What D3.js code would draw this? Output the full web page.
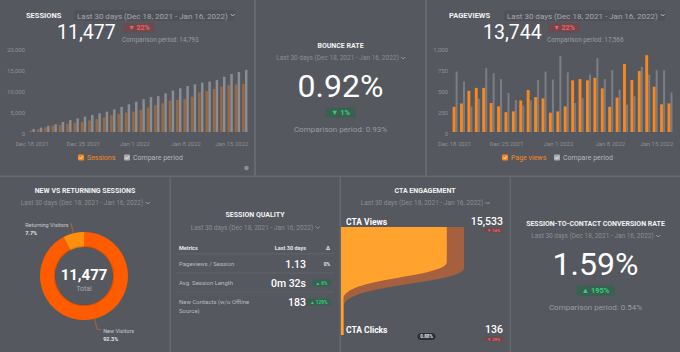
<!DOCTYPE html>
<html>
<head>
<meta charset="utf-8">
<script src="https://cdn.jsdelivr.net/npm/d3@7"></script>
<style>
  body { margin: 0; background: #66696e; }
  svg { display: block; font-family: Roboto, "Noto Sans", sans-serif; }
</style>
</head>
<body>
<svg id="dash" width="680" height="352"></svg>
<script>
// ---- data ----
var days = d3.timeDay.range(new Date(2021, 11, 18), new Date(2022, 0, 17));
var tickIndex = [0, 7, 14, 21, 28];
var tickLabels = ['Dec 18 2021', 'Dec 25 2021', 'Jan 1 2022', 'Jan 8 2022', 'Jan 15 2022'];
var dateRange = 'Last 30 days (Dec 18, 2021 - Jan 16, 2022)';

// cumulative sessions
var sessions = [300, 630, 1100, 1550, 1700, 1950, 2200, 2400, 2750, 3050, 3500, 4000, 4300, 4650, 4850,
  5250, 5800, 6400, 6850, 7450, 7650, 7900, 8400, 9400, 9750, 10250, 10800, 11150, 11350, 11477];
var sessionsCompare = [700, 1050, 1450, 1850, 2400, 2850, 3250, 3650, 4050, 4450, 4850, 5400, 6000, 6600, 7200,
  7800, 8300, 8550, 9200, 9850, 10400, 10950, 11350, 11750, 12000, 12400, 13150, 13800, 14300, 14793];
var sessionTicks = [0, 5000, 10000, 15000, 20000];

var pageviews = [300, 340, 490, 525, 525, 345, 305, 235, 245, 375, 500, 415, 400, 230, 245,
  305, 615, 630, 615, 645, 520, 300, 410, 810, 620, 725, 915, 540, 330, 340];
var pageviewsCompare = [720, 600, 305, 395, 760, 700, 630, 465, 380, 315, 375, 620, 720, 625, 905,
  710, 345, 405, 685, 880, 630, 735, 505, 325, 425, 775, 685, 735, 735, 470];
var pageviewTicks = [0, 250, 500, 750, 1000];

var visitorTypes = ['New Visitors', 'Returning Visitors'];
var visitorShares = [92.3, 7.7];
var visitorTotal = 11477;

var qualityMetrics = [['Pageviews / Session'], ['Avg. Session Length'], ['New Contacts (w/o Offline', 'Source)']];
var qualityValues = ['1.13', '0m 32s', '183'];
var qualityChanges = [0, 6, 129];

var ctaSteps = ['CTA Views', 'CTA Clicks'];
var ctaValues = [15533, 136];
var ctaCompare = [18062, 223];
var ctaChanges = [-14, -39];
var ctaRate = '0.88%';

var fmt = d3.format(',');
var svg = d3.select('#dash');

// ---- panels ----
var panels = [[0, 0, 254, 175.5], [256, 0, 169, 175.5], [427, 0, 253, 175.5],
  [0, 177, 169.5, 175], [171, 177, 168.5, 175], [341, 177, 168.5, 175], [511, 177, 169, 175]];
svg.selectAll('.panel').data(panels).enter().append('rect')
  .attr('x', d => d[0]).attr('y', d => d[1]).attr('width', d => d[2]).attr('height', d => d[3])
  .attr('fill', '#55585e');

function txt(g, x, y, s, size, color, weight, anchor) {
  return g.append('text').attr('x', x).attr('y', y).text(s)
    .style('font-size', size + 'px').attr('fill', color)
    .style('font-weight', weight || 400).attr('text-anchor', anchor || 'start');
}

// small coloured change pill; good decides green/red, sign decides the arrow
function badge(g, x, y, h, change, size, align, good) {
  if (good === undefined) good = change >= 0;
  var b = g.append('g');
  var r = b.append('rect').attr('rx', 1.5).attr('fill', good ? '#3b5f50' : '#6b4a50');
  var t = txt(b, 0, 0, (change >= 0 ? '▲ ' : '▼ ') + Math.abs(change) + '%', size,
    good ? '#2fd27a' : '#ff5b5b', 700, 'middle');
  var w = t.node().getComputedTextLength() + size * 1.4;
  var cx = align === 'end' ? x - w / 2 : align === 'middle' ? x : x + w / 2;
  r.attr('x', cx - w / 2).attr('y', y).attr('width', w).attr('height', h);
  t.attr('x', cx).attr('y', y + h / 2 + size * 0.36);
}

function chevron(g, x, y, color) {
  g.append('path').attr('d', 'M' + x + ',' + (y - 1.5) + 'l2,2l2,-2')
    .attr('fill', 'none').attr('stroke', color).attr('stroke-width', 0.9);
}

function centredDate(g, cx, y) {
  var t = txt(g, cx - 3, y, dateRange, 6.5, '#8b8e93', 400, 'middle');
  var w = t.node().getComputedTextLength();
  chevron(g, cx - 3 + w / 2 + 2.5, y - 1.5, '#a0a3a8');
}

// ---- bar chart panels ----
function barPanel(o) {
  var g = svg.append('g');
  txt(g, o.titleX, 18, o.title, 7.5, '#f2f2f2', 700);
  g.append('rect').attr('x', o.dateX - 3).attr('y', 10).attr('width', 161).attr('height', 11)
    .attr('rx', 2).attr('fill', 'rgba(0,0,0,0.06)');
  var dt = txt(g, o.dateX, 18.5, dateRange, 8, '#a6a9ae');
  chevron(g, o.dateX + dt.node().getComputedTextLength() + 3, 15.5, '#c0c3c8');
  txt(g, o.valueX, 38.5, fmt(o.value), 19.5, '#ffffff', 400);
  badge(g, o.badgeX, 23, 9.5, o.change, 7, 'start');
  txt(g, o.badgeX - 1, 42, 'Comparison period: ' + fmt(o.comparison), 6.4, '#9a9da2');

  var x = d3.scaleBand().domain(days).range(o.xRange);
  var y = d3.scaleLinear().domain([0, o.yTicks[o.yTicks.length - 1]]).range([132, 48]);

  var ya = g.append('g').attr('transform', 'translate(' + o.axisX + ',2)')
    .call(d3.axisLeft(y).tickValues(o.yTicks).tickSize(0).tickPadding(0).tickFormat(fmt));
  ya.attr('font-size', 6).attr('font-family', 'Roboto');
  ya.select('.domain').remove();
  ya.selectAll('text').attr('fill', '#8e9196');

  var xa = g.append('g').attr('transform', 'translate(0,141.5)')
    .call(d3.axisBottom(x).tickValues(tickIndex.map(i => days[i]))
      .tickFormat((d, i) => tickLabels[i]).tickSize(0).tickPadding(0));
  xa.attr('font-size', 6).attr('font-family', 'Roboto');
  xa.select('.domain').remove();
  xa.selectAll('text').attr('fill', '#8e9196');
  var lastDay = days[tickIndex[tickIndex.length - 1]];
  xa.selectAll('text').filter(d => d === lastDay)
    .attr('text-anchor', 'end').attr('x', o.xRange[1] - (x(lastDay) + x.bandwidth() / 2));

  g.selectAll('.cmp').data(o.compare).enter().append('rect')
    .attr('x', (d, i) => x(days[i]) + o.cmpOff).attr('width', o.cmpW)
    .attr('y', d => y(d)).attr('height', d => y(0) - y(d))
    .attr('fill', o.cmpColor);
  g.selectAll('.cur').data(o.current).enter().append('rect')
    .attr('x', (d, i) => x(days[i]) + o.curOff).attr('width', o.curW)
    .attr('y', d => y(d)).attr('height', d => y(0) - y(d))
    .attr('fill', '#f7871f').attr('fill-opacity', o.curOpacity);

  // legend
  [[o.legendX, '#f7871f', o.legendLabel, '#f7871f'], [o.legendX2, '#a9acb1', 'Compare period', '#b4b7bc']]
    .forEach(function (l) {
      g.append('rect').attr('x', l[0]).attr('y', 154.5).attr('width', 6).attr('height', 6)
        .attr('rx', 1).attr('fill', l[1]);
      g.append('path').attr('d', 'M' + (l[0] + 1.3) + ',157.6l1.3,1.4l2.2,-2.6')
        .attr('fill', 'none').attr('stroke', '#ffffff').attr('stroke-width', 0.8);
      txt(g, l[0] + 9, 160.3, l[2], 7, l[3]);
    });
}

barPanel({
  title: 'SESSIONS', titleX: 26, dateX: 77, value: 11477, valueX: 57, badgeX: 123, change: -22,
  comparison: 14793, xRange: [28.5, 248.4], axisX: 25, yTicks: sessionTicks,
  current: sessions, compare: sessionsCompare, curOff: 1, curW: 2.6, curOpacity: 0.4,
  cmpOff: 3.9, cmpW: 2.5, cmpColor: '#8a8d93', legendX: 78, legendX2: 124, legendLabel: 'Sessions'
});
barPanel({
  title: 'PAGEVIEWS', titleX: 449, dateX: 507, value: 13744, valueX: 483, badgeX: 548, change: -22,
  comparison: 17566, xRange: [451, 673.3], axisX: 448, yTicks: pageviewTicks,
  current: pageviews, compare: pageviewsCompare, curOff: 1.6, curW: 2.9, curOpacity: 1,
  cmpOff: 4.6, cmpW: 2, cmpColor: '#7b7e84', legendX: 502, legendX2: 554, legendLabel: 'Page views'
});
svg.append('circle').attr('cx', 246.5).attr('cy', 168).attr('r', 2.3).attr('fill', '#8d9096');

// ---- single value panels ----
function kpiPanel(cx, yTitle, title, value, change, good, comparison) {
  var g = svg.append('g');
  txt(g, cx, yTitle, title, 7, '#f2f2f2', 700, 'middle');
  centredDate(g, cx, yTitle + 12);
  txt(g, cx, yTitle + 49, value, 32, '#ffffff', 400, 'middle');
  badge(g, cx, yTitle + 59.5, 10.5, change, 7.5, 'middle', good);
  txt(g, cx, yTitle + 84, 'Comparison period: ' + comparison, 8, '#9a9da2', 400, 'middle');
}
kpiPanel(340.5, 48, 'BOUNCE RATE', '0.92%', -1, true, '0.93%');
kpiPanel(595.5, 226, 'SESSION-TO-CONTACT CONVERSION RATE', '1.59%', 195, true, '0.54%');

// ---- donut ----
(function () {
  var g = svg.append('g');
  txt(g, 85, 192.5, 'NEW VS RETURNING SESSIONS', 7, '#f2f2f2', 700, 'middle');
  centredDate(g, 85, 205);
  var c = g.append('g').attr('transform', 'translate(84,276)');
  var pie = d3.pie().sort(null).value(d => d);
  var arc = d3.arc().innerRadius(29).outerRadius(44);
  var color = d3.scaleOrdinal().domain(visitorTypes).range(['#ff5c00', '#ff8f0c']);
  var slices = pie(visitorShares);
  c.selectAll('path').data(slices).enter().append('path')
    .attr('d', arc).attr('fill', (d, i) => color(visitorTypes[i]));
  c.append('circle').attr('r', 29.5).attr('fill', 'none').attr('stroke', 'rgba(0,0,0,0.12)').attr('stroke-width', 1.5);
  txt(c, 0, 4, fmt(visitorTotal), 15, '#ffffff', 700, 'middle');
  txt(c, 0, 14.5, 'Total', 7, '#a6a9ae', 400, 'middle');

  slices.forEach(function (s, i) {
    var a = (s.startAngle + s.endAngle) / 2;
    var p0 = [Math.sin(a) * 44, -Math.cos(a) * 44];
    var p1 = [Math.sin(a) * 55, -Math.cos(a) * 55];
    var right = Math.sin(a) > 0;
    var p2 = [p1[0] + (right ? 4 : 0), p1[1]];
    c.append('polyline').attr('points', [p0, p1, p2].join(' '))
      .attr('fill', 'none').attr('stroke', '#d0692c').attr('stroke-width', 0.7);
    var lg = c.append('g');
    txt(lg, 0, 0, visitorTypes[i], 5.5, '#c8cbd0');
    txt(lg, 0, 8, visitorShares[i] + '%', 5.5, '#e2e4e8', 700);
    var w = lg.node().getBBox().width;
    var lx = right ? p2[0] + 2 : p2[0] - w - 2;
    lg.attr('transform', 'translate(' + lx + ',' + (p2[1] + 4) + ')');
  });
})();

// ---- session quality table ----
(function () {
  var g = svg.append('g');
  txt(g, 255, 216.5, 'SESSION QUALITY', 7, '#f2f2f2', 700, 'middle');
  centredDate(g, 255, 229.5);
  txt(g, 179, 250, 'Metrics', 5.5, '#e4e6ea', 700);
  txt(g, 306, 250, 'Last 30 days', 5.5, '#e4e6ea', 700, 'end');
  txt(g, 328, 250, 'Δ', 5.5, '#e4e6ea', 700, 'middle');
  var rowY = [266, 285, 304];
  [254, 273, 292].forEach(function (ly) {
    g.append('line').attr('x1', 176).attr('x2', 334).attr('y1', ly).attr('y2', ly)
      .attr('stroke', '#64676d').attr('stroke-width', 0.8);
  });
  qualityMetrics.forEach(function (m, i) {
    m.forEach(function (line, j) {
      txt(g, 179, rowY[i] + j * 8.5, line, 6, '#b8bbc0');
    });
    txt(g, 306, rowY[i] + 1.5, qualityValues[i], 10.5, '#ffffff', 500, 'end');
    if (qualityChanges[i] === 0) {
      txt(g, 327, rowY[i], '0%', 5, '#e4e6ea', 700, 'middle');
    } else {
      badge(g, 331, rowY[i] - 5.5, 7, qualityChanges[i], 4.8, 'end');
    }
  });
})();

// ---- CTA funnel ----
(function () {
  var g = svg.append('g');
  txt(g, 425, 192.5, 'CTA ENGAGEMENT', 7, '#f2f2f2', 700, 'middle');
  centredDate(g, 425, 205);
  var w = d3.scaleLinear().domain([0, ctaCompare[0]]).range([0, 123]);
  var left = 341;
  function funnel(topW, botW, yTop, yBend, yEnd, yBottom) {
    var p = d3.path();
    var mid = yBend + (yEnd - yBend) * 0.42;
    p.moveTo(left, yTop);
    p.lineTo(left + topW, yTop);
    p.lineTo(left + topW, yBend);
    p.bezierCurveTo(left + topW, mid, left + botW, mid, left + botW, yEnd);
    p.lineTo(left + botW, yBottom);
    p.lineTo(left, yBottom);
    p.closePath();
    return p.toString();
  }
  g.append('path').attr('d', funnel(w(ctaCompare[0]), Math.max(w(ctaCompare[1]), 3), 227, 268, 306, 335))
    .attr('fill', '#a4603f');
  g.append('path').attr('d', funnel(w(ctaValues[0]), Math.max(w(ctaValues[1]), 2.5), 227, 262, 299, 335))
    .attr('fill', '#ffa32e');

  var ys = [224.5, 333];
  ctaSteps.forEach(function (s, i) {
    txt(g, 346, ys[i], s, 8.5, '#ffffff', 700);
    txt(g, 503, ys[i], fmt(ctaValues[i]), 10.5, '#ffffff', 500, 'end');
    badge(g, 503, ys[i] + 3.5, 5, ctaChanges[i], 4.2, 'end');
  });
  g.append('rect').attr('x', 417.5).attr('y', 333).attr('width', 18).attr('height', 7)
    .attr('rx', 3.5).attr('fill', '#2d2f33');
  txt(g, 426.5, 338.2, ctaRate, 4.6, '#e8e8e8', 700, 'middle');
})();
</script>
</body>
</html>
